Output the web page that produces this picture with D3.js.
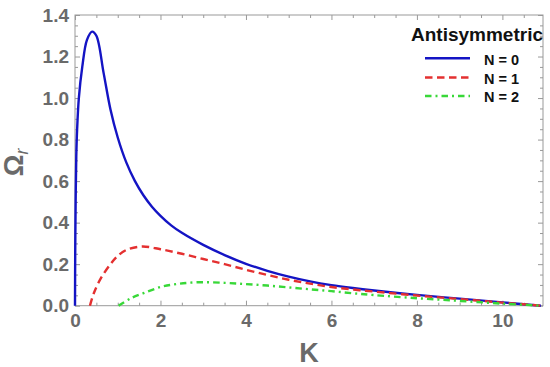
<!DOCTYPE html>
<html>
<head>
<meta charset="utf-8">
<script src="https://cdn.jsdelivr.net/npm/d3@7"></script>
<style>
  html, body { margin: 0; padding: 0; background: #fff; }
  svg { display: block; font-family: "Liberation Sans", Arial, sans-serif; }
</style>
</head>
<body>
<svg id="chart" width="550" height="367"></svg>
<script>
// ---- data ----
const kN0 = [0, 0.005, 0.015, 0.03, 0.05, 0.09, 0.17, 0.28, 0.4, 0.5, 0.67, 0.83, 1.0, 1.2, 1.4, 1.6, 1.8, 2.0, 2.25, 2.5, 3.0, 3.5, 4.0, 4.5, 5.0, 5.5, 6.0, 6.5, 7.0, 8.0, 9.0, 10.0, 10.9];
const vN0 = [0, 0.25, 0.5, 0.72, 0.85, 1.0, 1.15, 1.28, 1.32, 1.3, 1.12, 0.945, 0.81, 0.69, 0.601, 0.532, 0.477, 0.433, 0.387, 0.351, 0.293, 0.244, 0.202, 0.168, 0.14, 0.117, 0.099, 0.085, 0.073, 0.052, 0.034, 0.016, 0];

const kN1 = [0.35, 0.44, 0.6, 0.83, 1.0, 1.22, 1.57, 2.0, 2.5, 3.0, 3.5, 4.0, 4.5, 5.0, 5.5, 6.0, 6.5, 7.0, 8.0, 9.0, 10.0, 10.9];
const vN1 = [0, 0.06, 0.13, 0.2, 0.24, 0.27, 0.285, 0.272, 0.25, 0.225, 0.2, 0.173, 0.148, 0.125, 0.106, 0.09, 0.078, 0.068, 0.049, 0.032, 0.015, 0];

const kN2 = [1.02, 1.3, 1.6, 2.0, 2.4, 2.9, 3.5, 4.0, 4.5, 5.0, 5.5, 6.0, 6.5, 7.0, 8.0, 9.0, 10.0, 10.9];
const vN2 = [0, 0.035, 0.06, 0.09, 0.105, 0.113, 0.11, 0.104, 0.097, 0.088, 0.079, 0.07, 0.06, 0.051, 0.036, 0.023, 0.01, 0];

const seriesNames = ["N = 0", "N = 1", "N = 2"];
const legendTitle = "Antisymmetric";
const xTicks = [0, 2, 4, 6, 8, 10];
const yTicks = [0.0, 0.2, 0.4, 0.6, 0.8, 1.0, 1.2, 1.4];
const xDomain = [0, 10.95];
const yDomain = [0, 1.4];

// ---- layout ----
const svg = d3.select("#chart");
const mLeft = 75, mRight = 543, mTop = 15, mBottom = 305.7;

const x = d3.scaleLinear().domain(xDomain).range([mLeft, mRight]);
const y = d3.scaleLinear().domain(yDomain).range([mBottom, mTop]);

const tickColor = "#6a6a6a";
const frameColor = "#999";

const xMinor = d3.range(0, 11, 0.5).filter(v => Math.abs(v % 2) > 1e-9);
const yMinor = d3.range(0, 28).map(i => i * 0.05).filter((v, i) => i % 4 !== 0);

function styleAxis(g) {
  g.select(".domain").remove();
  g.selectAll(".tick line").attr("stroke", frameColor).attr("stroke-width", 1);
}

// bottom
svg.append("g").attr("transform", `translate(0,${mBottom})`)
  .call(d3.axisBottom(x).tickValues(xTicks).tickSize(-5).tickPadding(8).tickFormat(d3.format("d")))
  .call(styleAxis)
  .call(g => g.selectAll("text").attr("fill", tickColor).attr("font-size", 19).attr("font-weight", "bold"));
svg.append("g").attr("transform", `translate(0,${mBottom})`)
  .call(d3.axisBottom(x).tickValues(xMinor).tickSize(-3).tickFormat(""))
  .call(styleAxis);
// top
svg.append("g").attr("transform", `translate(0,${mTop})`)
  .call(d3.axisTop(x).tickValues(xTicks).tickSize(-5).tickFormat(""))
  .call(styleAxis);
svg.append("g").attr("transform", `translate(0,${mTop})`)
  .call(d3.axisTop(x).tickValues(xMinor).tickSize(-3).tickFormat(""))
  .call(styleAxis);
// left
svg.append("g").attr("transform", `translate(${mLeft},0)`)
  .call(d3.axisLeft(y).tickValues(yTicks).tickSize(-5).tickPadding(6).tickFormat(d3.format(".1f")))
  .call(styleAxis)
  .call(g => g.selectAll("text").attr("fill", tickColor).attr("font-size", 19).attr("font-weight", "bold"));
svg.append("g").attr("transform", `translate(${mLeft},0)`)
  .call(d3.axisLeft(y).tickValues(yMinor).tickSize(-3).tickFormat(""))
  .call(styleAxis);
// right
svg.append("g").attr("transform", `translate(${mRight},0)`)
  .call(d3.axisRight(y).tickValues(yTicks).tickSize(-5).tickFormat(""))
  .call(styleAxis);
svg.append("g").attr("transform", `translate(${mRight},0)`)
  .call(d3.axisRight(y).tickValues(yMinor).tickSize(-3).tickFormat(""))
  .call(styleAxis);

// frame
svg.append("rect")
  .attr("x", mLeft).attr("y", mTop)
  .attr("width", mRight - mLeft).attr("height", mBottom - mTop)
  .attr("fill", "none").attr("stroke", frameColor).attr("stroke-width", 1);

// ---- curves ----
const series = [
  { k: kN0, v: vN0, color: "#1414c4", dash: null },
  { k: kN1, v: vN1, color: "#e43030", dash: "7.5,4.5" },
  { k: kN2, v: vN2, color: "#38d838", dash: "6.5,4,2,4" }
];

const line = d3.line().x(d => x(d[0])).y(d => y(d[1])).curve(d3.curveCatmullRom.alpha(0.5));

series.forEach(s => {
  svg.append("path")
    .datum(s.k.map((k, i) => [k, s.v[i]]))
    .attr("d", line)
    .attr("fill", "none")
    .attr("stroke", s.color)
    .attr("stroke-width", 2.4)
    .attr("stroke-dasharray", s.dash)
    .attr("stroke-linejoin", "round");
});

// ---- axis titles ----
svg.append("text")
  .attr("x", (mLeft + mRight) / 2).attr("y", 362)
  .attr("text-anchor", "middle")
  .attr("font-size", 27).attr("font-weight", "bold").attr("fill", tickColor)
  .text("K");

const yl = svg.append("text")
  .attr("transform", `translate(23,${(mTop + mBottom) / 2 + 2}) rotate(-90)`)
  .attr("text-anchor", "middle")
  .attr("font-size", 27).attr("font-weight", "bold").attr("fill", tickColor);
yl.append("tspan").text("Ω");
yl.append("tspan").attr("font-style", "italic").attr("font-weight", "normal").attr("font-size", 18).attr("dy", 5).text("r");

// ---- legend ----
const legend = svg.append("g");
legend.append("text")
  .attr("x", 411).attr("y", 40.7)
  .attr("font-size", 19).attr("font-weight", "bold").attr("fill", "#111")
  .text(legendTitle);

const rowsY = [58.3, 77.5, 96];
series.forEach((s, i) => {
  legend.append("line")
    .attr("x1", 425).attr("x2", 470)
    .attr("y1", rowsY[i]).attr("y2", rowsY[i])
    .attr("stroke", s.color).attr("stroke-width", 2.4)
    .attr("stroke-dasharray", s.dash);
  legend.append("text")
    .attr("x", 484).attr("y", rowsY[i] + 2.5)
    .attr("dominant-baseline", "middle")
    .attr("font-size", 14.5).attr("font-weight", "bold").attr("fill", "#111")
    .text(seriesNames[i]);
});
</script>
</body>
</html>
